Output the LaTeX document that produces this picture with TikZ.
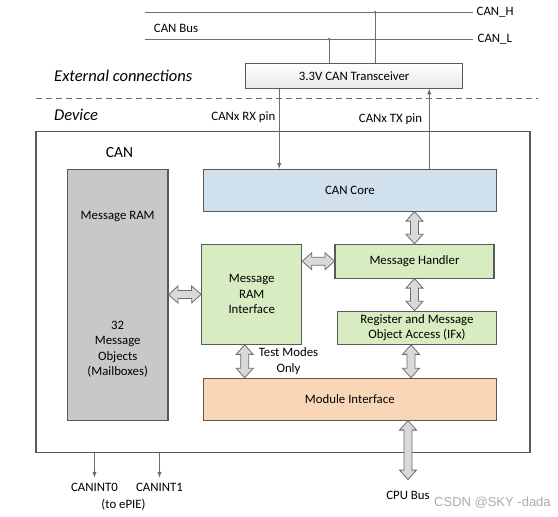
\documentclass[tikz,border=0pt]{standalone}
\usepackage{fontspec}
\setmainfont{Carlito}
\newfontfamily\wmfont{Liberation Sans}
\usetikzlibrary{calc}

\definecolor{boxline}{RGB}{89,89,89}
\definecolor{corebg}{RGB}{209,224,237}
\definecolor{greenbg}{RGB}{215,236,192}
\definecolor{peachbg}{RGB}{248,214,182}
\definecolor{rambg}{RGB}{200,200,200}
\definecolor{busfillc}{RGB}{217,217,217}
\definecolor{busline}{RGB}{110,110,110}

\tikzset{
  block/.style={rectangle,draw=boxline,line width=1.1pt,align=center,inner sep=2pt},
  lbl/.style={align=center,inner sep=1pt},
  wire/.style={draw=busline,line width=1pt},
  dashline/.style={draw=busline,line width=1.2pt,dash pattern=on 6pt off 4pt},
  busfill/.style={fill=busfillc,draw=busline,line width=0.8pt,line join=miter},
}

% double block arrow between two points
\newcommand{\busarrow}[2]{%
  \path (#1) coordinate (ba) (#2) coordinate (bb);
  \path ($(ba)!9.5pt!(bb)$) coordinate (ha) ($(bb)!9.5pt!(ba)$) coordinate (hb);
  \filldraw[busfill] (ba) -- ($(ha)!8.5pt!90:(bb)$) -- ($(ha)!4pt!90:(bb)$)
    -- ($(hb)!4pt!-90:(ba)$) -- ($(hb)!8.5pt!-90:(ba)$) -- (bb)
    -- ($(hb)!8.5pt!90:(ba)$) -- ($(hb)!4pt!90:(ba)$)
    -- ($(ha)!4pt!-90:(bb)$) -- ($(ha)!8.5pt!-90:(bb)$) -- cycle;}

\begin{document}
\begin{tikzpicture}[x=1pt,y=-1pt,>=latex,font=\fontsize{12.8}{15.5}\selectfont]
\useasboundingbox (0,0) rectangle (558,517);

% external side
\coordinate (hstart) at (145,12.3);
\coordinate (lstart) at (145,39.3);
\node at (475.5,12.3) [lbl,anchor=west] (canh) {CAN\_H};
\node at (476.5,39.3) [lbl,anchor=west] (canl) {CAN\_L};
\node at (176,28) [lbl] (canbus) {CAN Bus};
\draw[wire] (hstart) -- ([xshift=-3pt]canh.west);
\draw[wire] (lstart) -- ([xshift=-4pt]canl.west);

\node at (354.2,75.7) [block,minimum width=217pt,minimum height=24.7pt,
      top color=white,bottom color=gray!18] (trx) {3.3V CAN Transceiver};
\coordinate (hdrop) at ($(trx.north)+(21,0)$);
\coordinate (ldrop) at ($(trx.north)+(-25,0)$);
\draw[wire] (hdrop) -- (hdrop |- hstart);
\draw[wire] (ldrop) -- (ldrop |- lstart);
\fill[busline] (hdrop |- hstart) circle (1.6pt);
\fill[busline] (ldrop |- lstart) circle (1.6pt);

\node at (53,76.3) [lbl,anchor=west,font=\fontsize{16.5}{19}\selectfont\itshape] (extlbl) {External connections};
\coordinate (dashl) at (35.6,98.3);
\coordinate (dashr) at (538,98.3);
\draw[dashline] (dashl) -- (dashr);
\node at (53,115) [lbl,anchor=west,font=\fontsize{16.5}{19}\selectfont\itshape] (devlbl) {Device};

% device side
\node at (283,292.2) [block,minimum width=494pt,minimum height=321pt] (canbox) {};
\node at (119.5,152.7) [lbl,font=\fontsize{15.5}{18}\selectfont] (canlbl) {CAN};

\node at (276.5,117.5) [lbl,anchor=east] (rxlbl) {CANx RX pin};
\node at (390.5,119) [lbl] (txlbl) {CANx TX pin};

\node at (117.7,294.7) [block,fill=rambg,minimum width=100.5pt,minimum height=250.7pt] (msgram) {};
\node at (117.7,216.7) [lbl] (ramlbl) {Message RAM};
\node at (117.7,349.2) [lbl] (mailbox) {32\\Message\\Objects\\(Mailboxes)};

\node at (349.9,190.2) [block,fill=corebg,minimum width=293.7pt,minimum height=41.7pt] (core) {CAN Core};
\node at (251.7,294.3) [block,fill=greenbg,minimum width=100pt,minimum height=100pt] (mri) {Message\\RAM\\Interface};
\node at (414.5,261.2) [block,fill=greenbg,minimum width=159pt,minimum height=33.7pt] (handler) {Message Handler};
\node at (417,327.8) [block,fill=greenbg,minimum width=159.4pt,minimum height=33pt] (regacc) {Register and Message\\Object Access (IFx)};
\node at (349.8,399.2) [block,fill=peachbg,minimum width=293.5pt,minimum height=41.7pt] (modif) {Module Interface};
\node at (288.5,361) [lbl] (testmodes) {Test Modes\\Only};

\coordinate (rxtop) at ($(trx.south)+(-75,0)$);
\coordinate (txtop) at ($(trx.south)+(75,0)$);
\draw[wire,->] (rxtop) -- (rxtop |- core.north);
\draw[wire,->] (txtop |- core.north) -- (txtop);

\busarrow{msgram.east}{mri.west}
\busarrow{mri.east |- handler}{handler.west}
\busarrow{core.south -| handler}{handler.north}
\busarrow{handler.south}{handler.south |- regacc.north}
\coordinate (regdrop) at ($(regacc.south)+(-6,0)$);
\busarrow{regdrop}{regdrop |- modif.north}
\coordinate (mridrop) at ($(mri.south)+(-7,0)$);
\busarrow{mridrop}{mridrop |- modif.north}

% outputs
\node at (94.5,487) [lbl] (canint0) {CANINT0};
\node at (159.5,487) [lbl] (canint1) {CANINT1};
\node at (123.5,505) [lbl] (epie) {(to ePIE)};
\draw[wire,->,shorten >=4pt] (canbox.south -| canint0) -- (canint0);
\draw[wire,->,shorten >=4pt] (canbox.south -| canint1) -- (canint1);

\node at (408,495) [lbl] (cpubus) {CPU Bus};
\coordinate (cpuend) at ($(cpubus.north)+(0,-10)$);
\busarrow{modif.south -| cpubus}{cpuend}

\node at (433,503) [lbl,anchor=west,text=gray!65,font=\fontsize{13}{16}\wmfont] (wmark) {CSDN @SKY -dada};
\end{tikzpicture}
\end{document}
